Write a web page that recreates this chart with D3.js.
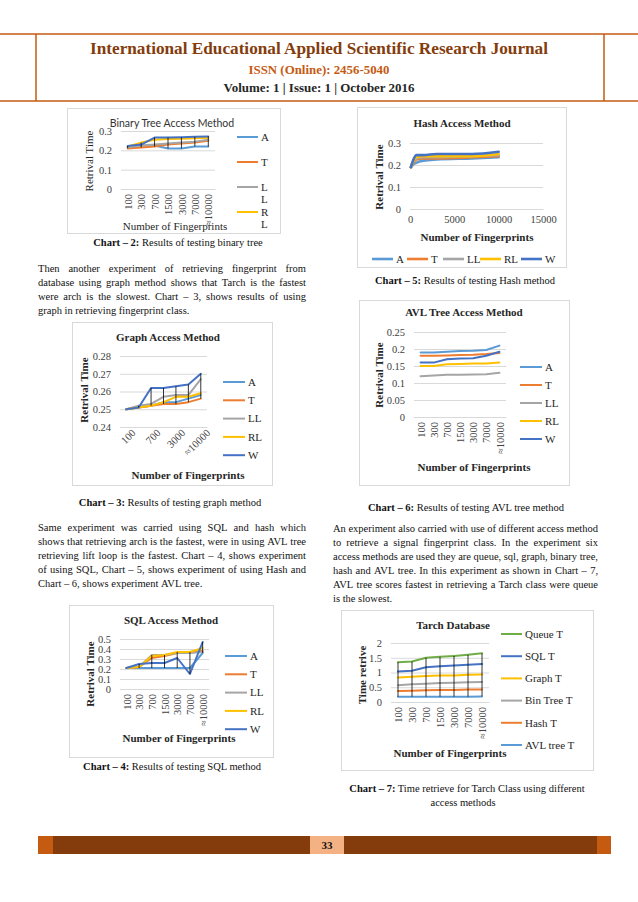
<!DOCTYPE html>
<html>
<head>
<meta charset="utf-8">
<script src="https://cdn.jsdelivr.net/npm/d3@7"></script>
<style>html,body{margin:0;padding:0;background:#fff}</style>
</head>
<body>
<script>
// ---- data ----
const fingerprints = ["100", "300", "700", "1500", "3000", "7000", "≈10000"];
const fingerprintCounts = [100, 300, 700, 1500, 3000, 7000, 10000];
const methods = ["A", "T", "LL", "RL", "W"];
const tarchMethods = ["Queue T", "SQL T", "Graph T", "Bin Tree T", "Hash T", "AVL tree T"];

// one row per series, in the order of `methods`
const binaryTreeTimes = [
  [0.215, 0.225, 0.225, 0.21, 0.21, 0.22, 0.22],
  [0.21, 0.215, 0.22, 0.23, 0.235, 0.24, 0.25],
  [0.215, 0.225, 0.23, 0.235, 0.24, 0.245, 0.255],
  [0.22, 0.24, 0.255, 0.258, 0.26, 0.262, 0.265],
  [0.222, 0.23, 0.266, 0.266, 0.268, 0.27, 0.272]
];
const graphTimes = [
  [0.25, 0.251, 0.252, 0.254, 0.254, 0.256, 0.258],
  [0.25, 0.251, 0.252, 0.253, 0.253, 0.254, 0.256],
  [0.25, 0.252, 0.253, 0.257, 0.258, 0.258, 0.267],
  [0.25, 0.251, 0.252, 0.254, 0.257, 0.257, 0.259],
  [0.25, 0.251, 0.262, 0.262, 0.263, 0.264, 0.27]
];
const sqlTimes = [
  [0.21, 0.21, 0.21, 0.21, 0.21, 0.21, 0.36],
  [0.21, 0.22, 0.31, 0.33, 0.36, 0.37, 0.38],
  [0.21, 0.22, 0.34, 0.34, 0.36, 0.36, 0.37],
  [0.21, 0.22, 0.33, 0.34, 0.37, 0.37, 0.41],
  [0.21, 0.25, 0.26, 0.26, 0.31, 0.15, 0.47]
];
const hashTimes = [
  [0.19, 0.2, 0.21, 0.22, 0.225, 0.23, 0.235],
  [0.19, 0.205, 0.225, 0.23, 0.23, 0.235, 0.24],
  [0.19, 0.21, 0.23, 0.235, 0.235, 0.24, 0.245],
  [0.19, 0.21, 0.235, 0.24, 0.24, 0.24, 0.25],
  [0.19, 0.215, 0.245, 0.245, 0.25, 0.25, 0.26]
];
const avlTimes = [
  [0.19, 0.19, 0.192, 0.194, 0.195, 0.197, 0.21],
  [0.18, 0.18, 0.181, 0.182, 0.183, 0.185, 0.188],
  [0.12, 0.122, 0.124, 0.124, 0.125, 0.126, 0.13],
  [0.15, 0.15, 0.155, 0.156, 0.157, 0.157, 0.16],
  [0.16, 0.16, 0.17, 0.172, 0.173, 0.18, 0.192]
];
const tarchTimes = [
  [1.35, 1.37, 1.5, 1.53, 1.56, 1.6, 1.65],
  [1.03, 1.06, 1.18, 1.21, 1.24, 1.26, 1.29],
  [0.83, 0.86, 0.88, 0.9, 0.9, 0.92, 0.93],
  [0.57, 0.6, 0.62, 0.64, 0.65, 0.67, 0.68],
  [0.37, 0.38, 0.4, 0.41, 0.41, 0.42, 0.42],
  [0.18, 0.18, 0.18, 0.18, 0.18, 0.18, 0.19]
];

const methodColors = ["#5B9BD5", "#ED7D31", "#A5A5A5", "#FFC000", "#4472C4"];
const tarchColors = ["#70AD47", "#4472C4", "#FFC000", "#A5A5A5", "#ED7D31", "#5B9BD5"];

// ---- page ----
const SERIF = "'Liberation Serif','Times New Roman',serif";
const FS = 10.5;
const svg = d3.select("body").append("svg")
  .attr("width", 638).attr("height", 902)
  .style("display", "block");

// header
const head = svg.append("g").attr("stroke", "#C55A11").attr("stroke-width", 1.5);
head.append("line").attr("x1", 0).attr("x2", 638).attr("y1", 34).attr("y2", 34);
head.append("line").attr("x1", 0).attr("x2", 638).attr("y1", 101).attr("y2", 101);
head.append("line").attr("x1", 36).attr("x2", 36).attr("y1", 34).attr("y2", 101);
head.append("line").attr("x1", 604).attr("x2", 604).attr("y1", 34).attr("y2", 101);

function label(g, str, x, y, opts) {
  opts = opts || {};
  const t = g.append("text")
    .attr("x", x).attr("y", y)
    .attr("font-family", opts.family || SERIF)
    .attr("font-size", opts.size || FS)
    .attr("font-weight", opts.bold ? "bold" : "normal")
    .attr("fill", opts.fill || "#262626")
    .attr("text-anchor", opts.anchor || "middle")
    .text(str);
  if (opts.rotate) t.attr("transform", `rotate(${opts.rotate},${x},${y})`);
  if (opts.length) t.attr("textLength", opts.length).attr("lengthAdjust", "spacingAndGlyphs");
  return t;
}

label(svg, "International Educational Applied Scientific Research Journal", 319, 54,
  { size: 17.5, bold: true, fill: "#843C0C", length: 458 });
label(svg, "ISSN (Online): 2456-5040", 319, 74, { size: 13, bold: true, fill: "#C55A11", length: 141 });
label(svg, "Volume: 1 | Issue: 1 | October 2016", 319, 92, { size: 13, bold: true, fill: "#262626", length: 191 });

// footer
svg.append("rect").attr("x", 38).attr("y", 836).attr("width", 573).attr("height", 18).attr("fill", "#843C0C");
svg.append("rect").attr("x", 38).attr("y", 836).attr("width", 15).attr("height", 18).attr("fill", "#C55A11");
svg.append("rect").attr("x", 597).attr("y", 836).attr("width", 14).attr("height", 18).attr("fill", "#C55A11");
svg.append("rect").attr("x", 310).attr("y", 836).attr("width", 34).attr("height", 18).attr("fill", "#F4B183");
label(svg, "33", 327, 849, { size: 11, bold: true, fill: "#111" });

// justified paragraphs
const measurer = svg.append("text").attr("font-family", SERIF).attr("font-size", FS).attr("visibility", "hidden");
function textWidth(s) { measurer.text(s); return measurer.node().getComputedTextLength(); }

function paragraph(lines, x0, x1, y0) {
  const t = svg.append("text").attr("font-family", SERIF).attr("font-size", FS).attr("fill", "#111");
  lines.forEach((line, li) => {
    const words = line.split(/\s+/);
    const widths = words.map(textWidth);
    const last = li === lines.length - 1;
    const gap = last ? textWidth("a b") - textWidth("ab") : (x1 - x0 - d3.sum(widths)) / (words.length - 1);
    let x = x0;
    words.forEach((w, i) => {
      t.append("tspan").attr("x", x).attr("y", y0 + li * 14).text(w);
      x += widths[i] + gap;
    });
  });
}

paragraph([
  "Then another experiment of retrieving fingerprint from",
  "database using graph method shows that Tarch is the fastest",
  "were arch is the slowest.  Chart – 3, shows results of using",
  "graph in retrieving fingerprint class."
], 38, 306, 272);

paragraph([
  "Same experiment was carried using SQL and hash which",
  "shows that retrieving arch is the fastest, were in using AVL tree",
  "retrieving lift loop is the fastest. Chart – 4, shows experiment",
  "of using SQL, Chart – 5, shows experiment of using Hash and",
  "Chart – 6, shows experiment AVL tree."
], 38, 306, 531);

paragraph([
  "An experiment also carried with use of different access method",
  "to retrieve a signal fingerprint class. In the experiment six",
  "access methods are used they are queue, sql, graph, binary tree,",
  "hash and AVL tree. In this experiment as shown in Chart – 7,",
  "AVL tree scores fastest in retrieving a Tarch class were queue",
  "is the slowest."
], 333, 598, 532);

function caption(boldPart, rest, x, y) {
  const t = svg.append("text").attr("x", x).attr("y", y)
    .attr("font-family", SERIF).attr("font-size", FS).attr("fill", "#111")
    .attr("text-anchor", "middle");
  t.append("tspan").attr("font-weight", "bold").text(boldPart);
  t.append("tspan").text(rest);
}

// ---- chart drawing ----
function lineChart(o) {
  const g = svg.append("g");
  g.append("rect")
    .attr("x", o.box[0] + 0.5).attr("y", o.box[1] + 0.5)
    .attr("width", o.box[2]).attr("height", o.box[3])
    .attr("fill", "#fff").attr("stroke", "#D9D9D9");

  const p = o.plot;
  const y = d3.scaleLinear().domain(o.yDomain).range([p.bottom, p.top]);
  const x = o.xDomain
    ? d3.scaleLinear().domain(o.xDomain).range([p.left, p.right])
    : d3.scalePoint().domain(fingerprints).range([p.left, p.right]).padding(0.5);
  const xPos = i => o.xDomain ? x(fingerprintCounts[i]) : x(fingerprints[i]);

  g.append("g").attr("transform", `translate(${p.left},0)`)
    .call(d3.axisLeft(y).tickValues(o.yTicks).tickSize(-(p.right - p.left)).tickPadding(o.tickGap || 9)
      .tickFormat(d => String(d)))
    .call(a => a.select(".domain").remove())
    .call(a => a.selectAll(".tick line").attr("stroke", "#D9D9D9"))
    .call(a => a.selectAll(".tick text").attr("font-family", SERIF).attr("font-size", FS).attr("fill", "#404040"));

  const xAxis = o.xDomain
    ? d3.axisBottom(x).tickValues(o.xTicks).tickSize(0).tickPadding(7).tickFormat(d => String(d))
    : d3.axisBottom(x).tickValues(o.every2 ? fingerprints.filter((d, i) => i % 2 === 0) : fingerprints)
      .tickSize(0).tickSizeOuter(0);
  const xa = g.append("g").attr("transform", `translate(0,${p.bottom})`).call(xAxis);
  xa.select(".domain").attr("stroke", "#D9D9D9");
  xa.selectAll(".tick text").attr("font-family", SERIF).attr("font-size", FS).attr("fill", "#404040");
  if (o.labelAngle === -90) {
    xa.selectAll(".tick text").attr("transform", "rotate(-90)").attr("text-anchor", "end")
      .attr("x", -5).attr("y", 0).attr("dy", "0.35em");
  } else if (o.labelAngle === -45) {
    xa.selectAll(".tick text").attr("transform", "translate(7,4) rotate(-45)").attr("text-anchor", "end")
      .attr("x", 0).attr("y", 0).attr("dy", "0.35em");
  }

  const line = d3.line().x((d, i) => xPos(i)).y(d => y(d)).curve(o.curve || d3.curveLinear);
  o.series.forEach((s, k) => {
    g.append("path").attr("d", line(s)).attr("fill", "none")
      .attr("stroke", o.colors[k]).attr("stroke-width", o.lineWidth || 2)
      .attr("stroke-linejoin", "round").attr("stroke-linecap", "round");
  });

  if (o.highLow) {
    fingerprints.forEach((c, i) => {
      const vals = o.series.map(s => s[i]);
      g.append("line")
        .attr("x1", xPos(i)).attr("x2", xPos(i))
        .attr("y1", y(d3.min(vals))).attr("y2", y(d3.max(vals)))
        .attr("stroke", "#000").attr("stroke-width", 0.8);
    });
  }

  // titles
  label(g, o.title[0], o.title[1], o.title[2], o.titleStyle || { bold: true, size: FS + 0.5 });
  label(g, o.yTitle[0], o.yTitle[1], o.yTitle[2], { bold: !o.plainTitles, size: FS + 0.5, rotate: -90 });
  label(g, o.xTitle[0], o.xTitle[1], o.xTitle[2], { bold: !o.plainTitles, size: FS + 0.5 });

  // legend
  const L = o.legend;
  L.names.forEach((n, k) => {
    const lx = L.horizontal ? L.xs[k] : L.x;
    const ly = L.horizontal ? L.y : L.y + k * L.dy;
    g.append("line").attr("x1", lx).attr("x2", lx + L.len).attr("y1", ly).attr("y2", ly)
      .attr("stroke", o.colors[k]).attr("stroke-width", o.lineWidth || 2);
    const t = g.append("text").attr("x", lx + L.len + 3).attr("y", ly).attr("dy", "0.35em")
      .attr("font-family", SERIF).attr("font-size", FS + 0.5).attr("fill", "#262626");
    if (L.wrap) {
      n.split("").forEach((ch, j) => t.append("tspan").attr("x", lx + L.len + 3).attr("dy", j === 0 ? "0.35em" : 12).text(ch));
    } else {
      t.text(n);
    }
  });
}

// Chart 2 - binary tree
lineChart({
  box: [67, 108, 213, 125],
  plot: { left: 121, right: 215, top: 131, bottom: 189 },
  yDomain: [0, 0.3], yTicks: [0, 0.1, 0.2, 0.3],
  series: binaryTreeTimes, colors: methodColors, highLow: true, labelAngle: -90,
  title: ["Binary Tree Access Method", 172, 127],
  titleStyle: { family: "Lato, 'Open Sans', sans-serif", size: 10.5, fill: "#333" },
  plainTitles: true,
  yTitle: ["Retrival Time", 93, 161],
  xTitle: ["Number of Fingerprints", 175, 230],
  legend: { names: methods.slice(0, 4), x: 237, len: 21, y: 137, dy: 25, wrap: true }
});
caption("Chart – 2:", " Results of testing binary tree", 178, 246);

// Chart 3 - graph
lineChart({
  box: [72, 322, 200, 163],
  plot: { left: 120, right: 207, top: 356, bottom: 427 },
  yDomain: [0.24, 0.28], yTicks: [0.24, 0.25, 0.26, 0.27, 0.28],
  series: graphTimes, colors: methodColors, highLow: true, labelAngle: -45, every2: true,
  title: ["Graph Access Method", 168, 341],
  yTitle: ["Retrival Time", 88, 390],
  xTitle: ["Number of Fingerprints", 188, 479],
  legend: { names: methods, x: 223, len: 22, y: 382, dy: 18.3 }
});
caption("Chart – 3:", " Results of testing graph method", 170, 506);

// Chart 4 - SQL
lineChart({
  box: [69, 605, 204, 152],
  plot: { left: 120, right: 209, top: 639, bottom: 689 },
  yDomain: [0, 0.5], yTicks: [0, 0.1, 0.2, 0.3, 0.4, 0.5],
  series: sqlTimes, colors: methodColors, highLow: true, labelAngle: -90,
  title: ["SQL Access Method", 171, 624],
  yTitle: ["Retrival Time", 94, 674],
  xTitle: ["Number of Fingerprints", 179, 742],
  legend: { names: methods, x: 225, len: 22, y: 656, dy: 18.3 }
});
caption("Chart – 4:", " Results of testing SQL method", 172, 770);

// Chart 5 - hash
lineChart({
  box: [357, 107, 209, 160],
  plot: { left: 410, right: 543, top: 143, bottom: 209 },
  yDomain: [0, 0.3], yTicks: [0, 0.1, 0.2, 0.3],
  xDomain: [0, 15000], xTicks: [0, 5000, 10000, 15000],
  series: hashTimes, colors: methodColors, curve: d3.curveMonotoneX, lineWidth: 2.6,
  title: ["Hash Access Method", 462, 127],
  yTitle: ["Retrival Time", 383, 177],
  xTitle: ["Number of Fingerprints", 477, 241],
  legend: { names: methods, horizontal: true, xs: [372, 407, 443, 480, 521], len: 21, y: 259 }
});
caption("Chart – 5:", " Results of testing Hash method", 465, 284);

// Chart 6 - AVL tree
lineChart({
  box: [359, 300, 210, 185],
  plot: { left: 414, right: 506, top: 332, bottom: 417 },
  yDomain: [0, 0.25], yTicks: [0, 0.05, 0.1, 0.15, 0.2, 0.25],
  series: avlTimes, colors: methodColors, labelAngle: -90,
  title: ["AVL Tree Access Method", 464, 316],
  yTitle: ["Retrival Time", 383, 375],
  xTitle: ["Number of Fingerprints", 474, 471],
  legend: { names: methods, x: 520, len: 22, y: 367, dy: 18 }
});
caption("Chart – 6:", " Results of testing AVL tree method", 466, 511);

// Chart 7 - Tarch database
lineChart({
  box: [341, 610, 252, 160],
  plot: { left: 391, right: 489, top: 643, bottom: 702 },
  yDomain: [0, 2], yTicks: [0, 0.5, 1, 1.5, 2],
  series: tarchTimes, colors: tarchColors, highLow: true, labelAngle: -90,
  title: ["Tarch Database", 453, 629],
  yTitle: ["Time retrive", 366, 675],
  xTitle: ["Number of Fingerprints", 450, 757],
  legend: { names: tarchMethods, x: 501, len: 21, y: 634, dy: 22.2 }
});
caption("Chart – 7:", " Time retrieve for Tarch Class using different", 467, 792);
caption("", "access methods", 463, 806);
</script>
</body>
</html>
